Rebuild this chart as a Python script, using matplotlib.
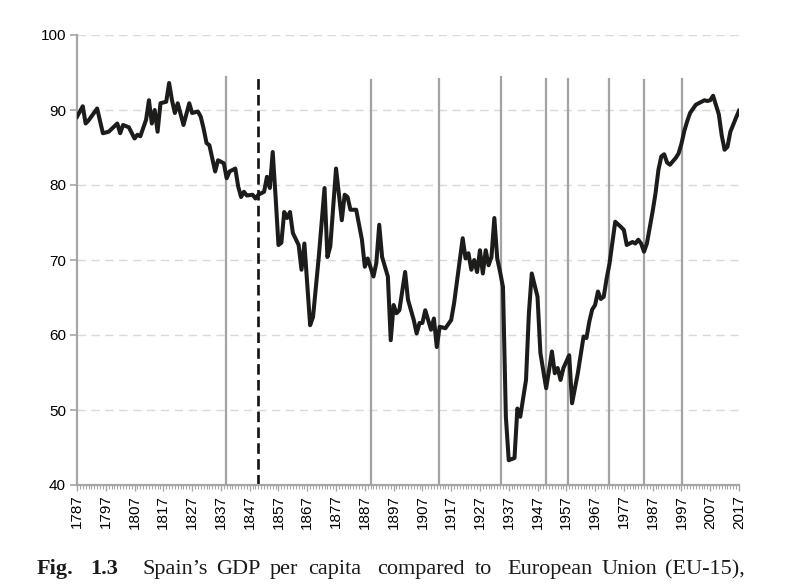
import matplotlib
matplotlib.use("Agg")
import matplotlib.pyplot as plt
from matplotlib.ticker import MultipleLocator, FixedLocator

# GDP per capita of Spain relative to EU-15 (EU-15 = 100)
years = [1787, 1789, 1790, 1791, 1794, 1796, 1798, 1801, 1802, 1803, 1805, 1807,
         1808, 1809, 1811, 1812, 1813, 1814, 1815, 1816, 1818, 1819, 1820, 1821,
         1822, 1824, 1826, 1827, 1829, 1830, 1831, 1832, 1833, 1835, 1836, 1838,
         1839, 1840, 1842, 1843, 1844, 1845, 1846, 1848, 1849, 1850, 1852, 1853,
         1854, 1855, 1856, 1857, 1858, 1859, 1860, 1861, 1862, 1864, 1865, 1866,
         1868, 1869, 1871, 1873, 1874, 1875, 1877, 1879, 1880, 1881, 1882, 1884,
         1886, 1887, 1888, 1890, 1891, 1892, 1893, 1895, 1896, 1897, 1898, 1899,
         1901, 1902, 1904, 1905, 1906, 1907, 1908, 1910, 1911, 1912, 1913, 1915,
         1917, 1918, 1921, 1922, 1923, 1924, 1925, 1926, 1927, 1928, 1929, 1930,
         1931, 1932, 1933, 1934, 1935, 1936, 1937, 1939, 1940, 1941, 1943, 1944,
         1945, 1947, 1948, 1950, 1951, 1952, 1953, 1954, 1955, 1956, 1958, 1959,
         1961, 1963, 1964, 1965, 1966, 1967, 1968, 1969, 1970, 1971, 1972, 1973,
         1974, 1976, 1977, 1978, 1980, 1981, 1982, 1983, 1984, 1985, 1987, 1988,
         1989, 1990, 1991, 1992, 1993, 1995, 1996, 1997, 1998, 1999, 2000, 2002,
         2003, 2005, 2006, 2007, 2008, 2010, 2011, 2012, 2013, 2014, 2016, 2017]
gdp = [89.1, 90.5, 88.2, 88.6, 90.2, 86.9, 87.1, 88.2, 86.9, 88.0, 87.7, 86.2,
       86.7, 86.5, 88.7, 91.3, 88.2, 90.0, 87.1, 90.9, 91.1, 93.6, 91.3, 89.6,
       90.9, 88.0, 90.9, 89.6, 89.8, 89.1, 87.5, 85.6, 85.3, 81.8, 83.3, 82.9,
       80.9, 81.8, 82.2, 79.8, 78.4, 79.1, 78.6, 78.7, 78.2, 78.7, 79.1, 81.1,
       79.6, 84.4, 78.4, 72.0, 72.3, 76.4, 75.6, 76.4, 73.6, 72.0, 68.7, 72.2,
       61.3, 62.4, 70.4, 79.6, 70.4, 71.8, 82.2, 75.3, 78.7, 78.4, 76.7, 76.7,
       72.7, 69.1, 70.2, 67.8, 69.6, 74.7, 70.4, 67.8, 59.3, 64.0, 62.9, 63.3,
       68.4, 64.7, 62.0, 60.2, 61.6, 61.6, 63.3, 60.7, 62.2, 58.4, 61.1, 60.9,
       62.0, 64.2, 72.9, 70.2, 70.9, 68.7, 70.0, 68.4, 71.3, 68.2, 71.3, 69.3,
       70.4, 75.6, 70.2, 68.4, 66.4, 49.1, 43.3, 43.6, 50.2, 49.1, 54.0, 62.9,
       68.2, 65.1, 57.6, 52.9, 55.3, 57.8, 54.9, 55.6, 54.0, 55.6, 57.3, 50.9,
       54.9, 59.8, 59.6, 61.8, 63.4, 64.0, 65.8, 64.8, 65.1, 67.5, 69.5, 72.3,
       75.1, 74.4, 74.0, 72.0, 72.4, 72.2, 72.7, 72.2, 71.1, 72.2, 76.5, 78.9,
       82.0, 83.8, 84.1, 83.0, 82.7, 83.6, 84.2, 85.5, 87.2, 88.5, 89.6, 90.7,
       90.9, 91.3, 91.2, 91.3, 91.9, 89.4, 86.6, 84.7, 85.1, 87.1, 89.0, 89.9]

# crisis markers (grey) and the dashed marker
crisis_years = [1838.7, 1889.2, 1912.8, 1934.4, 1949.9, 1957.6, 1971.8, 1984.1, 1997.2]
crisis_tops = [94.4, 94.0, 94.2, 94.4, 94.2, 94.1, 94.1, 94.0, 94.1]
dashed_year = 1850
dashed_top = 94.4

tick_years = list(range(1787, 2018, 10))
y_ticks = [40, 50, 60, 70, 80, 90, 100]

plt.rcParams['font.family'] = ['Liberation Sans', 'DejaVu Sans']

fig = plt.figure(figsize=(7.86, 5.84), dpi=100)
ax = fig.add_axes([77 / 786, 1 - 485 / 584, 662 / 786, 450 / 584])

for yv in y_ticks[1:]:
    ax.axhline(yv, color='#d9d9d9', lw=1.0, ls=(0, (6, 4)), zorder=0)

for x, top in zip(crisis_years, crisis_tops):
    ax.plot([x, x], [40, top], color='#a3a3a3', lw=1.6, zorder=1)
ax.plot([dashed_year, dashed_year], [40, dashed_top], color='#111111', lw=1.9,
        ls=(0, (4, 2)), zorder=2)

ax.plot(years, gdp, color='#1c1c1a', lw=2.9, solid_joinstyle='round', zorder=3)

ax.set_xlim(1787, 2017)
ax.set_ylim(40, 100)
ax.set_yticks(y_ticks)
ax.xaxis.set_major_locator(FixedLocator(tick_years))
ax.xaxis.set_minor_locator(MultipleLocator(1))
ax.set_xticklabels([str(t) for t in tick_years], rotation=90, fontsize=11)
ax.tick_params(axis='y', labelsize=11, length=5, width=1.2, color='#a6a6a6', pad=3)
ax.tick_params(axis='x', which='major', length=4, width=1.0, color='#a6a6a6', pad=3)
ax.tick_params(axis='x', which='minor', length=3, width=0.8, color='#a6a6a6')

for side in ['top', 'right']:
    ax.spines[side].set_visible(False)
for side in ['left', 'bottom']:
    ax.spines[side].set_color('#a6a6a6')
    ax.spines[side].set_linewidth(1.6)

# caption, word by word to mimic the justified line
cap_words = ["Fig.", "1.3", "Spain’s", "GDP", "per", "capita", "compared", "to",
             "European", "Union", "(EU-15),"]
cap_x = [37, 90, 142, 216, 270, 308, 377, 475, 507, 602, 665]
for i, (w, xp) in enumerate(zip(cap_words, cap_x)):
    fig.text(xp / 786, 1 - 574 / 584, w, fontsize=16, family='Liberation Serif',
             fontweight='bold' if i < 2 else 'normal', color='#1a1a1a',
             ha='left', va='baseline')

fig.savefig('out.png', dpi=100)
